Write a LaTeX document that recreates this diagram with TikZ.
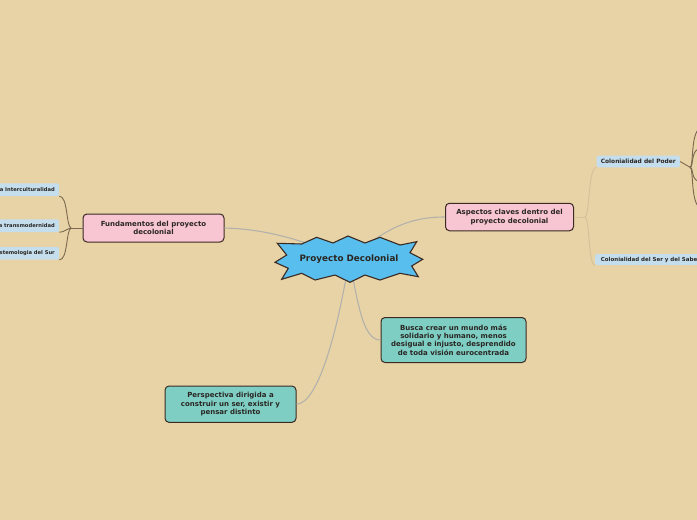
\documentclass[tikz,border=0pt]{standalone}
\usepackage{fontspec}
\setmainfont{DejaVu Sans}
\usepackage{tikz}
\usetikzlibrary{calc}

\definecolor{bgtan}{HTML}{E8D3A6}
\definecolor{burstblue}{HTML}{58BEEE}
\definecolor{rosebox}{HTML}{F8C6D2}
\definecolor{tealbox}{HTML}{7ECEC4}
\definecolor{leafblue}{HTML}{C5DEED}
\definecolor{edgedark}{HTML}{3B2A22}
\definecolor{greyline}{HTML}{B3B1AB}
\definecolor{tanline}{HTML}{D3C29A}
\definecolor{brownline}{HTML}{7A6850}
\definecolor{inkdark}{HTML}{2A2622}

\tikzset{
	topic/.style={draw=edgedark, line width=1pt, rounded corners=4pt, align=center,
		font=\bfseries\fontsize{7}{8.4}\selectfont, text=inkdark, inner sep=0pt},
	pinktopic/.style={topic, fill=rosebox},
	tealtopic/.style={topic, fill=tealbox},
	leafbox/.style={fill=leafblue, rounded corners=1.5pt, inner ysep=0pt, text=inkdark},
	greyedge/.style={draw=greyline, line width=1.1pt},
	tanedge/.style={draw=tanline, line width=1pt},
	brownedge/.style={draw=brownline, line width=0.9pt}
}

\begin{document}
\begin{tikzpicture}[x=1pt,y=-1pt]
\useasboundingbox (0,0) rectangle (697,520);
\clip (0,0) rectangle (697,520);
\fill[bgtan] (0,0) rectangle (697,520);

\coordinate (core) at (349,260);

% main topics
\node[pinktopic, minimum width=141pt, minimum height=28pt] (fund) at (153.5,228) {Fundamentos del proyecto\\decolonial};
\node[pinktopic, minimum width=128pt, minimum height=27.5pt] (asp) at (509.5,217) {Aspectos claves dentro del\\proyecto decolonial};
\node[tealtopic, minimum width=145pt, minimum height=45pt] (busca) at (453.5,340) {Busca crear un mundo más\\solidario y humano, menos\\desigual e injusto, desprendido\\de toda visión eurocentrada};
\node[tealtopic, minimum width=131pt, minimum height=36.3pt] (persp) at (230.5,404.2) {Perspectiva dirigida a\\construir un ser, existir y\\pensar distinto};

% leaves
\node[leafbox, anchor=east, inner xsep=4.3pt, minimum height=12.7pt, font=\bfseries\fontsize{5.2}{6}\selectfont] (intercult) at (59.3,189.7) {La Interculturalidad};
\node[leafbox, anchor=east, inner xsep=4.3pt, minimum height=12.7pt, font=\bfseries\fontsize{5.2}{6}\selectfont] (transmod) at (59.3,225.7) {La transmodernidad};
\node[leafbox, anchor=east, inner xsep=4.3pt, minimum height=12.7pt, font=\bfseries\fontsize{5.2}{6}\selectfont] (episur) at (59.3,253.3) {Epistemologia del Sur};
\node[leafbox, minimum width=83.3pt, minimum height=11.6pt, font=\bfseries\fontsize{5.9}{7}\selectfont] (poder) at (638.3,161.5) {Colonialidad del Poder};
\node[leafbox, anchor=west, inner xsep=5.7pt, minimum height=11pt, font=\bfseries\fontsize{5.5}{6.5}\selectfont] (sersaber) at (595,259.5) {Colonialidad del Ser y del Saber};

% connectors from the centre
\draw[greyedge] (core) .. controls (300,238) and (262,229) .. (fund.east);
\draw[greyedge] (core) .. controls (385,228) and (410,217) .. (asp.west);
\draw[greyedge] (core) .. controls (358,300) and (362,340) .. (busca.west);
\draw[greyedge] (core) .. controls (338,330) and (318,404) .. (persp.east);

% Aspectos branch
\coordinate (jasp) at (585,217);
\draw[tanedge] (asp.east) -- (jasp);
\draw[tanedge] (jasp) .. controls (590,215) and (588,167.3) .. (poder.south west);
\draw[tanedge] (jasp) .. controls (590,219) and (588,265) .. (sersaber.south west);

% Fundamentos branch
\coordinate (jleft) at (71,228);
\draw[brownedge] (fund.west) -- (jleft);
\draw[brownedge] (jleft) .. controls (66,226) and (68,196) .. (intercult.south east);
\draw[brownedge] (jleft) .. controls (66,229) and (65,232) .. (transmod.south east);
\draw[brownedge] (jleft) .. controls (66,230) and (68,260) .. (episur.south east);

% Poder branch, running off the page
\coordinate (jpoder) at (690,167.3);
\coordinate (off1) at (702,128);
\coordinate (off2) at (702,148);
\coordinate (off3) at (702,182);
\coordinate (off4) at (702,208);
\draw[brownedge] (poder.east) -- (jpoder);
\foreach \o/\c in {off1/128, off2/148, off3/182, off4/208}
	\draw[brownedge] (jpoder) .. controls (694,167.3) and (690,\c) .. (\o);

% central burst
\draw[fill=burstblue, draw=edgedark, line width=1.1pt, line join=miter]
	(275,262.3) -- (286.7,255) -- (277.3,243.3) -- (301.7,244) -- (316.7,237.3) -- (333,243)
	-- (348,236) -- (365,243) -- (380,237.3) -- (400,245) -- (416.7,241.7) -- (410,252.7)
	-- (422.7,259.3) -- (411.7,266) -- (418.3,276.7) -- (400,273.3) -- (380,280) -- (365,275)
	-- (350,282.3) -- (335,275) -- (315,280) -- (301.7,273.3) -- (281.7,279.3) -- (288.3,268.3) -- cycle;
\node[font=\bfseries\fontsize{8.8}{10}\selectfont, text=inkdark] (coretext) at (349,259.5) {Proyecto Decolonial};

\end{tikzpicture}
\end{document}
